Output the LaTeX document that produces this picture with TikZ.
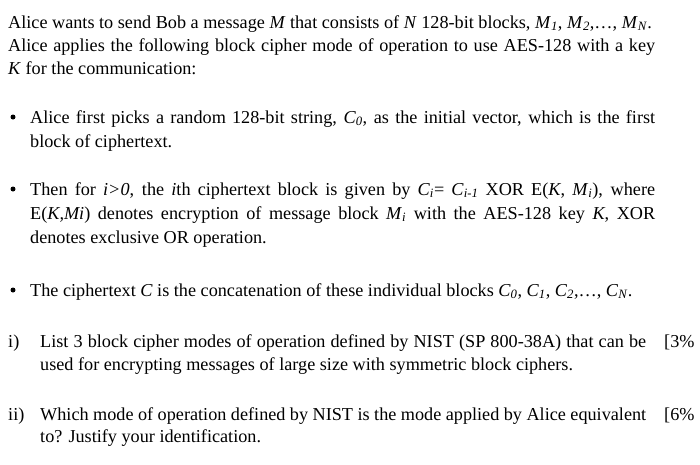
\documentclass[tikz,border=0pt]{standalone}
\usepackage{fontspec}
\setmainfont{Liberation Serif}
\newcommand{\ms}[2]{\textit{#1}\textsubscript{\textit{#2}}}
\begin{document}
\begin{tikzpicture}[x=1pt,y=-1pt,
  ln/.style={anchor=base west,inner sep=0pt,font=\fontsize{18.2}{21}\selectfont},
  bul/.style={circle,fill=black,inner sep=0pt,minimum size=5pt}]
\useasboundingbox (0,0) rectangle (700,464);
\node[ln] (l1) at (8,28) {Alice wants to send Bob a message \textit{M} that consists of \textit{N} 128-bit blocks, \ms{M}{1}, \ms{M}{2},\dots, \ms{M}{N}.};
\node[ln] (l2) at (8,51) {\makebox[647pt][s]{Alice applies the following block cipher mode of operation to use AES-128 with a key}};
\node[ln] (l3) at (8,74) {\textit{K} for the communication:};
\node[bul] (b1) at (13,117) {};
\node[ln] (a1) at (30,123) {\makebox[625pt][s]{Alice first picks a random 128-bit string, \ms{C}{0}, as the initial vector, which is the first}};
\node[ln] (a2) at (30,147) {block of ciphertext.};
\node[bul] (b2) at (13,189) {};
\node[ln] (c1) at (30,195) {\makebox[625pt][s]{Then for \textit{i>0}, the \textit{i}th ciphertext block is given by \ms{C}{i}= \ms{C}{i-1} XOR E(\textit{K}, \ms{M}{i}), where}};
\node[ln] (c2) at (30,219) {\makebox[625pt][s]{E(\textit{K,Mi}) denotes encryption of message block \ms{M}{i} with the AES-128 key \textit{K}, XOR}};
\node[ln] (c3) at (30,243) {denotes exclusive OR operation.};
\node[bul] (b3) at (13,290) {};
\node[ln] (d1) at (30,296) {The ciphertext \textit{C} is the concatenation of these individual blocks \ms{C}{0}, \ms{C}{1}, \ms{C}{2},\dots, \ms{C}{N}.};
\node[ln] (i1) at (8,347) {i)};
\node[ln] (e1) at (40,347) {\makebox[606pt][s]{List 3 block cipher modes of operation defined by NIST (SP 800-38A) that can be}};
\node[ln] (e2) at (40,370) {used for encrypting messages of large size with symmetric block ciphers.};
\node[ln] (m1) at (664,347) {[3\%};
\node[ln] (i2) at (8,420) {ii)};
\node[ln] (f1) at (40,420) {\makebox[606pt][s]{Which mode of operation defined by NIST is the mode applied by Alice equivalent}};
\node[ln] (f2) at (40,442) {to? Justify your identification.};
\node[ln] (m2) at (664,420) {[6\%};
\end{tikzpicture}
\end{document}
